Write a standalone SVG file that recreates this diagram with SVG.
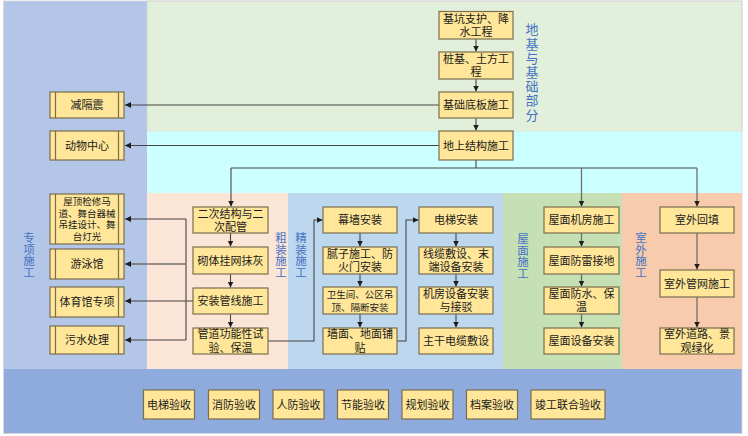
<svg xmlns="http://www.w3.org/2000/svg" width="748" height="436" viewBox="0 0 748 436">
<style>
.b{fill:#ffe699;stroke:#7a6e4e;stroke-width:1.2}
.t{font-family:"Noto Sans CJK SC","Noto Sans",sans-serif;font-size:11px;fill:#1a1a1a;text-anchor:middle}
.s{font-size:9.5px}
.lb{font-family:"Noto Sans CJK SC","Noto Sans",sans-serif;font-size:11.5px;fill:#4472c4;writing-mode:vertical-rl;text-anchor:start}
.lt{font-size:13px;letter-spacing:1.2px}
.c{fill:none;stroke:#454545;stroke-width:1.1}
.g{fill:none;stroke:#6e6e6e;stroke-width:1.3}
.in{stroke:#7a6e4e;stroke-width:1.2}
</style>
<defs>
<marker id="a" markerUnits="userSpaceOnUse" markerWidth="8" markerHeight="8" refX="6" refY="4" orient="auto">
<path d="M0,1 L6,4 L0,7 Z" fill="#1e1e1e"/>
</marker>
</defs>
<rect width="748" height="436" fill="#ffffff"/>
<g id="bands">
<rect x="3.5" y="1" width="143.5" height="368" fill="#b4c6e7"/>
<rect x="147" y="1" width="595" height="130.5" fill="#e2efda" stroke="#d0d8cc" stroke-width="0.8"/>
<rect x="147" y="131.5" width="595" height="61.5" fill="#ccffff"/>
<rect x="147" y="193" width="141" height="176" fill="#fbe5d6"/>
<rect x="288" y="193" width="215" height="176" fill="#bdd7ee"/>
<rect x="503" y="193" width="119" height="176" fill="#c5e0b4"/>
<rect x="622" y="193" width="120" height="176" fill="#f8cbad"/>
<rect x="3.5" y="369" width="738.5" height="64.5" fill="#8faadc"/>
<rect x="3.5" y="1" width="738.5" height="432.5" fill="none" stroke="#d6d6d6" stroke-width="0.8"/>
</g>
<g id="labels">
<text class="lb lt" x="532" y="23">地基与基础部分</text>
<text class="lb" x="29" y="232">专项施工</text>
<text class="lb" x="281" y="232">粗装施工</text>
<text class="lb" x="301" y="232">精装施工</text>
<text class="lb" x="523" y="233">屋面施工</text>
<text class="lb" x="641" y="232">室外施工</text>
</g>
<g id="connectors">
<path class="c" d="M476,39 V51.5" marker-end="url(#a)"/>
<path class="c" d="M476,79 V91.5" marker-end="url(#a)"/>
<path class="c" d="M476,118 V130.5" marker-end="url(#a)"/>
<path class="c" d="M439,105 H125" marker-end="url(#a)"/>
<path class="c" d="M439,145.5 H125" marker-end="url(#a)"/>
<path class="c" d="M476,160 V168 M231,168 H697"/>
<path class="c" d="M231,168 V206.5" marker-end="url(#a)"/>
<path class="g" d="M581.5,168 V206.5" marker-end="url(#a)"/>
<path class="g" d="M697,168 V206.5" marker-end="url(#a)"/>
<path class="c" d="M230.5,233 V246.5" marker-end="url(#a)"/>
<path class="c" d="M230.5,274 V287.5" marker-end="url(#a)"/>
<path class="c" d="M230.5,314 V327.5" marker-end="url(#a)"/>
<path class="c" d="M193,301 H186 M186,219 V340"/>
<path class="c" d="M186,219 H125" marker-end="url(#a)"/>
<path class="g" d="M186,264 H125" marker-end="url(#a)"/>
<path class="c" d="M186,301 H125" marker-end="url(#a)"/>
<path class="c" d="M186,340 H125" marker-end="url(#a)"/>
<path class="c" d="M268,341 H314 V220 H322.5" marker-end="url(#a)"/>
<path class="c" d="M360,233 V246.5" marker-end="url(#a)"/>
<path class="c" d="M360,274 V286.5" marker-end="url(#a)"/>
<path class="c" d="M360,314 V327.5" marker-end="url(#a)"/>
<path class="c" d="M397,341 H406 V220 H418.5" marker-end="url(#a)"/>
<path class="c" d="M456,233 V246.5" marker-end="url(#a)"/>
<path class="c" d="M456,274 V286.5" marker-end="url(#a)"/>
<path class="c" d="M456,314 V327.5" marker-end="url(#a)"/>
<path class="g" d="M581.5,233 V246.5" marker-end="url(#a)"/>
<path class="g" d="M581.5,274 V286.5" marker-end="url(#a)"/>
<path class="g" d="M581.5,314 V327.5" marker-end="url(#a)"/>
<path class="g" d="M697,233 V269.5" marker-end="url(#a)"/>
<path class="g" d="M697,297 V327.5" marker-end="url(#a)"/>
</g>
<g id="n1"><rect class="b" x="439" y="11.5" width="74" height="27.5"/><text class="t"><tspan x="476" y="22.5">基坑支护、降</tspan><tspan x="476" y="36">水工程</tspan></text></g>
<g id="n2"><rect class="b" x="439" y="52" width="74" height="27"/><text class="t"><tspan x="476" y="62.5">桩基、土方工</tspan><tspan x="476" y="76">程</tspan></text></g>
<g id="n3"><rect class="b" x="439" y="92" width="74" height="26"/><text class="t" x="476" y="109">基础底板施工</text></g>
<g id="n4"><rect class="b" x="439" y="131" width="74" height="29"/><text class="t" x="476" y="149.5">地上结构施工</text></g>
<g id="s1"><rect class="b" x="50" y="92" width="74" height="26"/><path class="in" d="M55.5,92 V118 M118.5,92 V118"/><text class="t" x="87" y="109">减隔震</text></g>
<g id="s2"><rect class="b" x="50" y="131" width="74" height="29"/><path class="in" d="M55.5,131 V160 M118.5,131 V160"/><text class="t" x="87" y="149.5">动物中心</text></g>
<g id="s3"><rect class="b" x="50" y="194" width="74" height="50"/><path class="in" d="M55.5,194 V244 M118.5,194 V244"/><text class="t s"><tspan x="87" y="205">屋顶检修马</tspan><tspan x="87" y="216.5">道、舞台器械</tspan><tspan x="87" y="228">吊挂设计、舞</tspan><tspan x="87" y="240">台灯光</tspan></text></g>
<g id="s4"><rect class="b" x="50" y="249" width="74" height="30"/><path class="in" d="M55.5,249 V279 M118.5,249 V279"/><text class="t" x="87" y="268">游泳馆</text></g>
<g id="s5"><rect class="b" x="50" y="287" width="74" height="30"/><path class="in" d="M55.5,287 V317 M118.5,287 V317"/><text class="t" x="87" y="306">体育馆专项</text></g>
<g id="s6"><rect class="b" x="50" y="326" width="74" height="28"/><path class="in" d="M55.5,326 V354 M118.5,326 V354"/><text class="t" x="87" y="344">污水处理</text></g>
<g id="r1"><rect class="b" x="193" y="207" width="75" height="26"/><text class="t"><tspan x="230.5" y="217.5">二次结构与二</tspan><tspan x="230.5" y="230.5">次配管</tspan></text></g>
<g id="r2"><rect class="b" x="193" y="247" width="75" height="27"/><text class="t" x="230.5" y="264.5">砌体挂网抹灰</text></g>
<g id="r3"><rect class="b" x="193" y="288" width="75" height="26"/><text class="t" x="230.5" y="305">安装管线施工</text></g>
<g id="r4"><rect class="b" x="193" y="328" width="75" height="26"/><text class="t"><tspan x="230.5" y="338">管道功能性试</tspan><tspan x="230.5" y="351.5">验、保温</tspan></text></g>
<g id="f1"><rect class="b" x="323" y="207" width="74" height="26"/><text class="t" x="360" y="224">幕墙安装</text></g>
<g id="f2"><rect class="b" x="323" y="247" width="74" height="27"/><text class="t"><tspan x="360" y="257.5">腻子施工、防</tspan><tspan x="360" y="271">火门安装</tspan></text></g>
<g id="f3"><rect class="b" x="323" y="287" width="74" height="27"/><text class="t s"><tspan x="360" y="298">卫生间、公区吊</tspan><tspan x="360" y="310.5">顶、隔断安装</tspan></text></g>
<g id="f4"><rect class="b" x="323" y="328" width="74" height="26"/><text class="t"><tspan x="360" y="338">墙面、地面铺</tspan><tspan x="360" y="351.5">贴</tspan></text></g>
<g id="e1"><rect class="b" x="419" y="207" width="74" height="26"/><text class="t" x="456" y="224">电梯安装</text></g>
<g id="e2"><rect class="b" x="419" y="247" width="74" height="27"/><text class="t"><tspan x="456" y="257.5">线缆敷设、末</tspan><tspan x="456" y="271">端设备安装</tspan></text></g>
<g id="e3"><rect class="b" x="419" y="287" width="74" height="27"/><text class="t"><tspan x="456" y="297.5">机房设备安装</tspan><tspan x="456" y="311">与接驳</tspan></text></g>
<g id="e4"><rect class="b" x="419" y="328" width="74" height="26"/><text class="t" x="456" y="345">主干电缆敷设</text></g>
<g id="w1"><rect class="b" x="544" y="207" width="75" height="26"/><text class="t" x="581.5" y="224">屋面机房施工</text></g>
<g id="w2"><rect class="b" x="544" y="247" width="75" height="27"/><text class="t" x="581.5" y="264.5">屋面防雷接地</text></g>
<g id="w3"><rect class="b" x="544" y="287" width="75" height="27"/><text class="t"><tspan x="581.5" y="297.5">屋面防水、保</tspan><tspan x="581.5" y="311">温</tspan></text></g>
<g id="w4"><rect class="b" x="544" y="328" width="75" height="26"/><text class="t" x="581.5" y="345">屋面设备安装</text></g>
<g id="o1"><rect class="b" x="660" y="207" width="74" height="26"/><text class="t" x="697" y="224">室外回填</text></g>
<g id="o2"><rect class="b" x="660" y="270" width="74" height="27"/><text class="t" x="697" y="287.5">室外管网施工</text></g>
<g id="o3"><rect class="b" x="660" y="328" width="74" height="26"/><text class="t"><tspan x="697" y="338">室外道路、景</tspan><tspan x="697" y="351.5">观绿化</tspan></text></g>
<g id="k1"><rect class="b" x="143.5" y="390" width="51" height="29"/><text class="t" x="169" y="408.5">电梯验收</text></g>
<g id="k2"><rect class="b" x="208.5" y="390" width="51" height="29"/><text class="t" x="234" y="408.5">消防验收</text></g>
<g id="k3"><rect class="b" x="273" y="390" width="51" height="29"/><text class="t" x="298.5" y="408.5">人防验收</text></g>
<g id="k4"><rect class="b" x="337.5" y="390" width="51" height="29"/><text class="t" x="363" y="408.5">节能验收</text></g>
<g id="k5"><rect class="b" x="402" y="390" width="51" height="29"/><text class="t" x="427.5" y="408.5">规划验收</text></g>
<g id="k6"><rect class="b" x="466.5" y="390" width="51" height="29"/><text class="t" x="492" y="408.5">档案验收</text></g>
<g id="k7"><rect class="b" x="531" y="390" width="74" height="29"/><text class="t" x="568" y="408.5">竣工联合验收</text></g>
</svg>
